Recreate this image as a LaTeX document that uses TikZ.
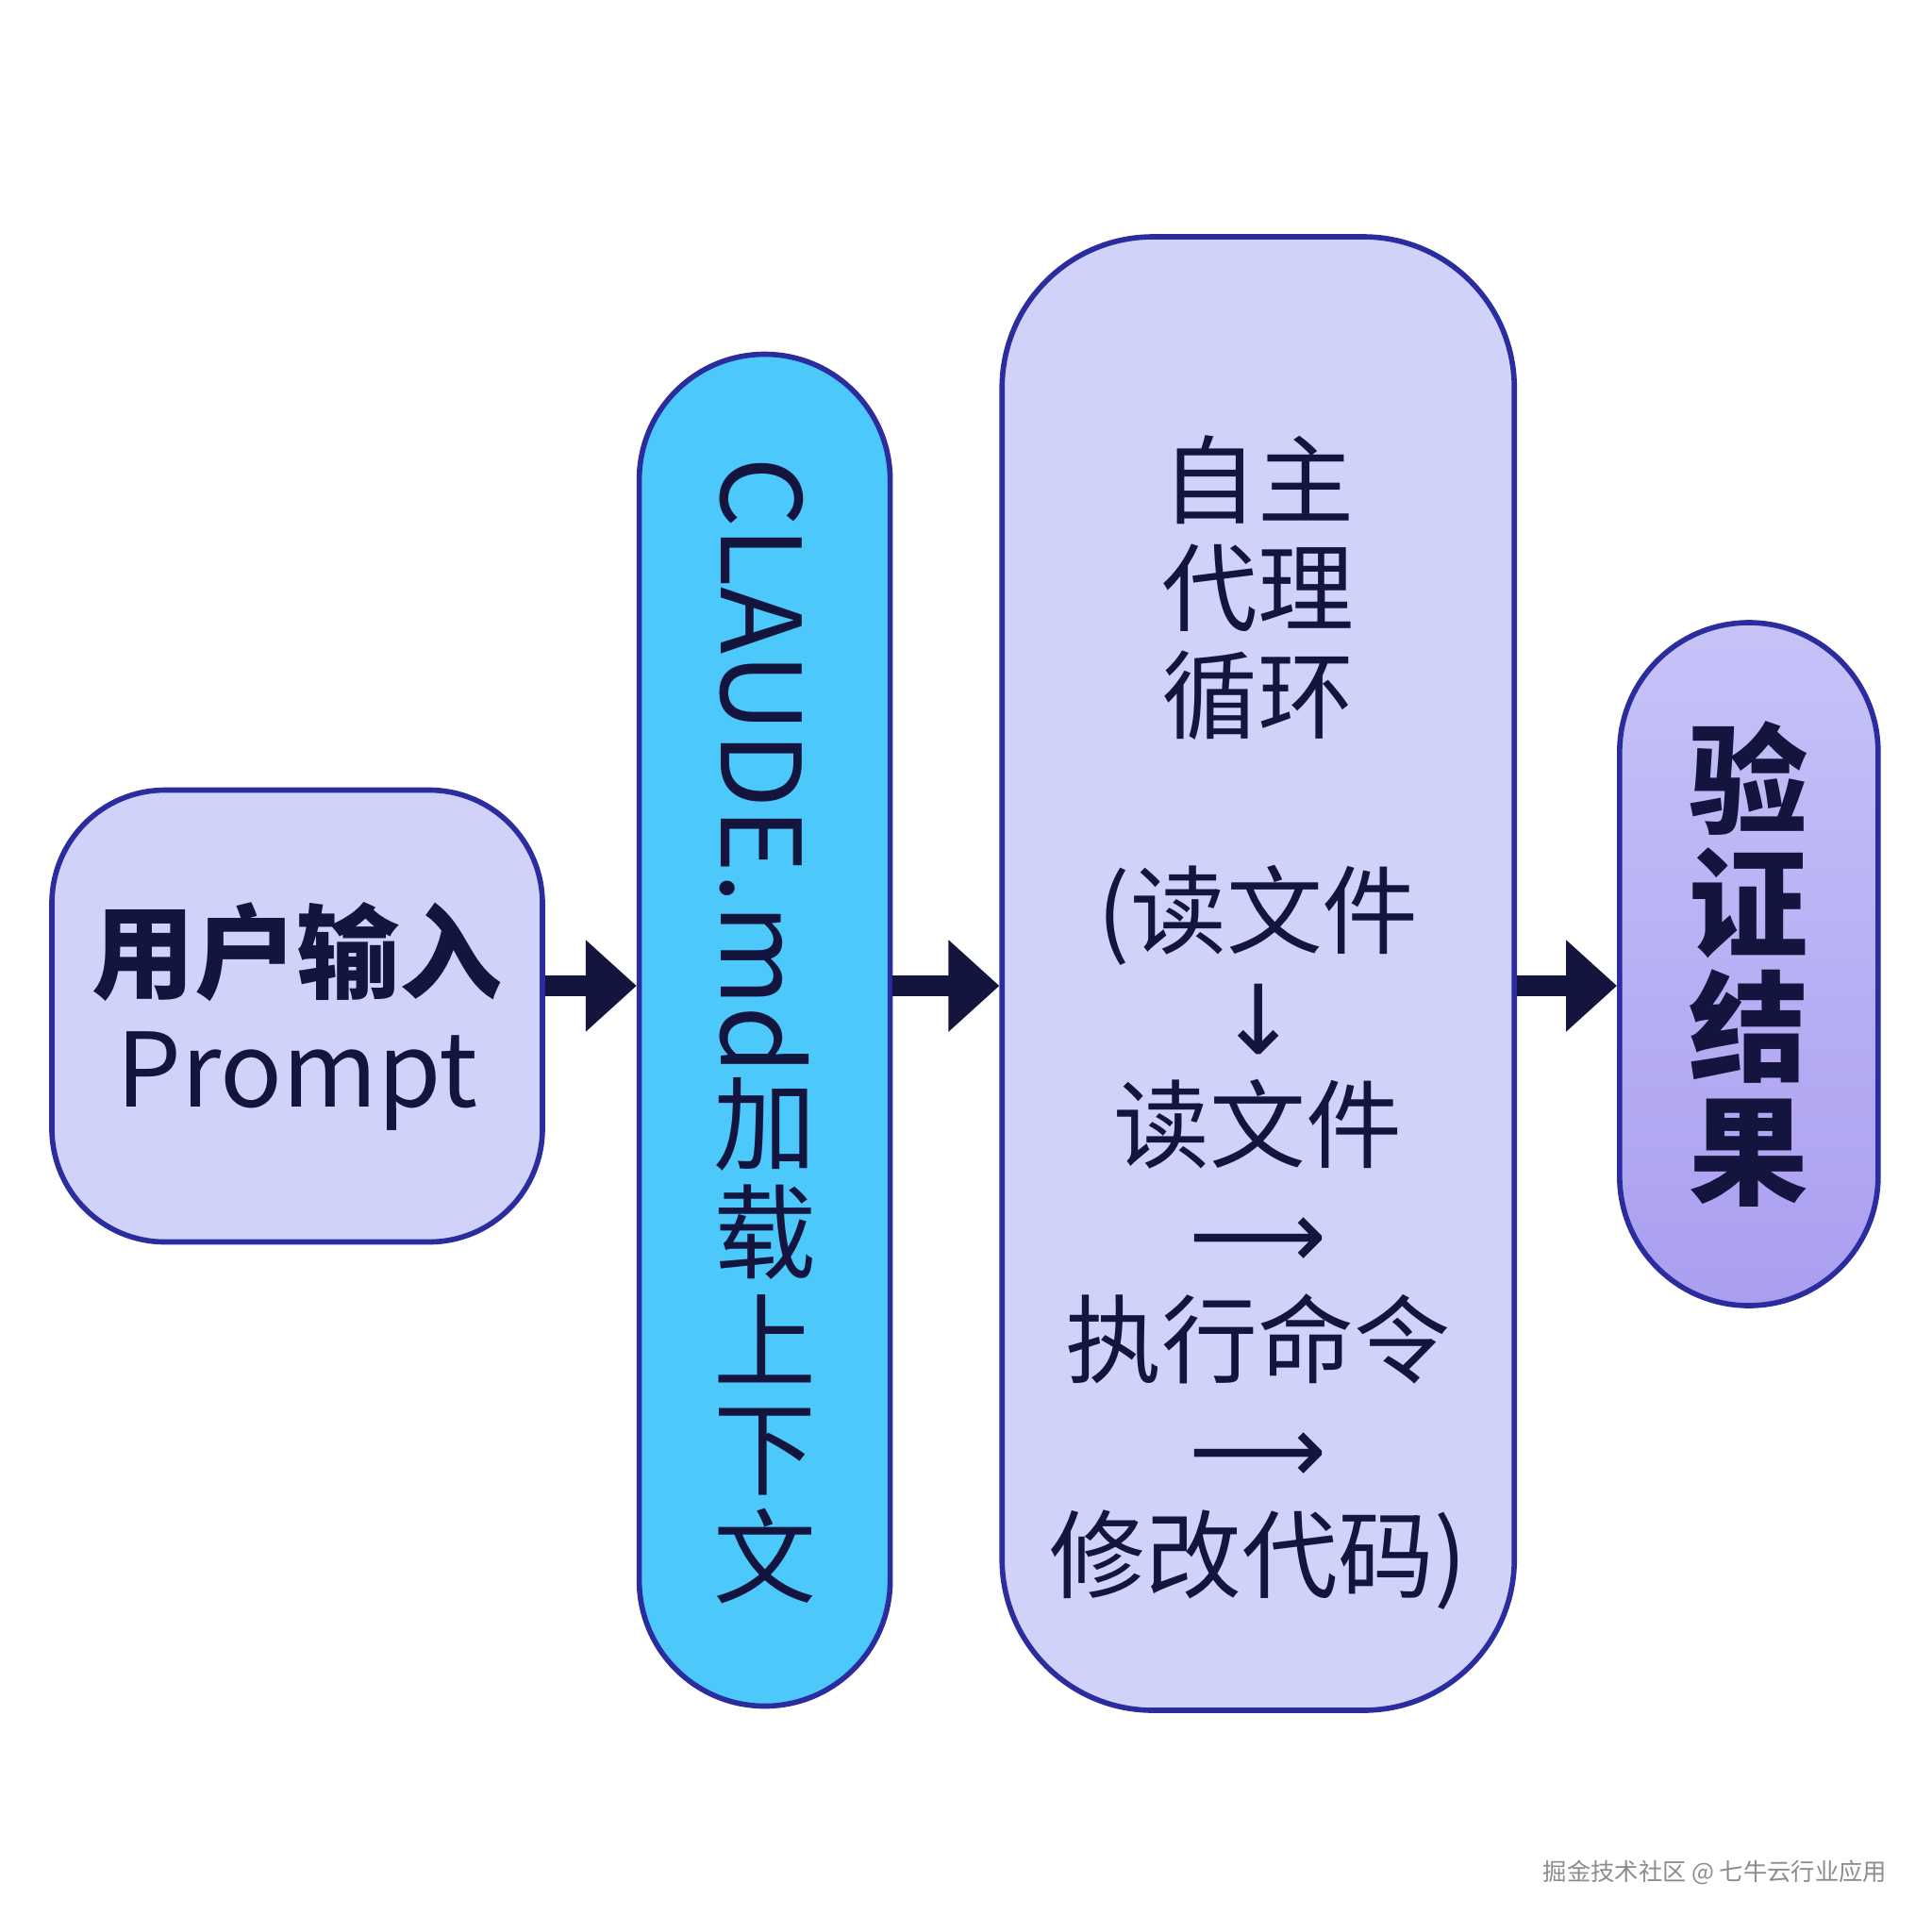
\documentclass[tikz,border=0pt]{standalone}
\usepackage{fontspec}
\setmainfont{Noto Sans CJK SC}
\newfontfamily\arrowfont{DejaVu Sans}
\usepackage{tikz}
\usetikzlibrary{arrows.meta, positioning}
\definecolor{edgeblue}{HTML}{2B2D9E}
\definecolor{inkblue}{HTML}{14153F}
\definecolor{lavender}{HTML}{D0D2FA}
\definecolor{cyanfill}{HTML}{4CC8FA}
\definecolor{violettop}{HTML}{C6C3F8}
\definecolor{violetbot}{HTML}{AA9EF0}
\tikzset{
  inbox/.style={rectangle, rounded corners=1.2cm, minimum width=5.2cm, minimum height=4.79cm, align=center, draw=edgeblue, line width=1.6pt, fill=lavender, text=inkblue, font=\fontsize{31}{35}\selectfont},
  ctxbox/.style={rectangle, rounded corners=1.33cm, minimum width=2.66cm, minimum height=14.33cm, align=center, draw=edgeblue, line width=1.6pt, fill=cyanfill, text=inkblue, font=\fontsize{31}{32.6}\selectfont},
  loopbox/.style={rectangle, rounded corners=1.6cm, minimum width=5.43cm, minimum height=15.62cm, draw=edgeblue, line width=1.6pt, fill=lavender},
  looptext/.style={align=center, text=inkblue, font=\fontsize{29}{32.4}\selectfont},
  resbox/.style={rectangle, rounded corners=1.37cm, minimum width=2.74cm, minimum height=7.24cm, align=center, draw=edgeblue, line width=1.6pt, top color=violettop, bottom color=violetbot, text=inkblue, font=\fontsize{36}{37.2}\selectfont\bfseries},
  flow/.style={line width=6pt, draw=inkblue, -{Triangle[length=0.54cm, width=0.94cm]}},
  watermark/.style={text=black!45, font=\fontsize{7.2}{8}\selectfont}
}
\newcommand{\downsym}{{\arrowfont\fontsize{29}{32}\selectfont ↓}}
\newcommand{\longsym}{{\arrowfont\fontsize{29}{32}\selectfont ⟶}}

\begin{document}
\begin{tikzpicture}
\fill[white] (0,0) rectangle (20.48,-20.48);
\useasboundingbox (0,0) rectangle (20.48,-20.48);
% pipeline boxes, left to right
\node[inbox] (prompt) at (3.15,-10.77) {{\bfseries 用户输入}\\Prompt};
\node[ctxbox, right=0.97cm of prompt, yshift=-0.15cm] (ctx) {{\fontsize{33.3}{34}\selectfont\rotatebox{-90}{CLAUDE.md}}\\加\\载\\上\\下\\文};
\node[loopbox, right=1.13cm of ctx, yshift=0.6cm] (loop) {};
\node[looptext] (steps) at ([yshift=-0.52cm]loop.center) {自主\\代理\\循环\\[1.14cm](读文件\\\downsym\\读文件\\\longsym\\执行命令\\\longsym\\修改代码)};
\node[resbox, right=1.06cm of loop, yshift=0.1cm] (result) {验\\证\\结\\果};

\coordinate (axis) at (0,-10.45);
\draw[flow] (prompt.east |- axis) -- (ctx.west |- axis);
\draw[flow] (ctx.east |- axis) -- (loop.west |- axis);
\draw[flow] (loop.east |- axis) -- (result.west |- axis);

\node[watermark] (mark) at (18.18,-19.85) {掘金技术社区 @ 七牛云行业应用};
\end{tikzpicture}
\end{document}
